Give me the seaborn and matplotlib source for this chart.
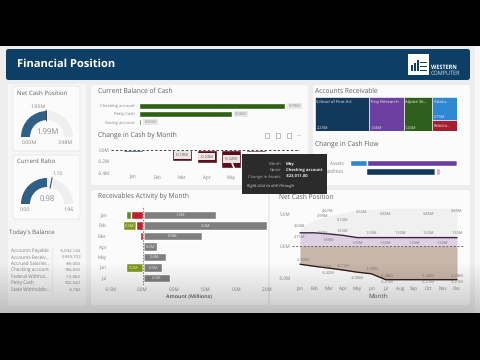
import numpy as np
import pandas as pd
import matplotlib
matplotlib.use('Agg')
import matplotlib.pyplot as plt
from matplotlib.patches import Rectangle, FancyBboxPatch, Wedge
import seaborn as sns

# current balance of cash
balance_names = ['Checking account', 'Petty Cash', 'Saving account']
balance_vals = [0.79, 0.50, 0.01]
balance_lbls = ['0.79M', '0.50M', '0.01M']

# change in cash by month
cash_months = ['Jan', 'Feb', 'Mar', 'Apr', 'May', 'Jun', 'Jul']
cash_vals = [-0.03, -0.02, -0.19, -0.23, -0.32, -0.03, 0.0]
cash_lbls = ['', '', '-0.19M', '-0.23M', '-0.32M', '', '']

# receivables activity
rec_months = ['Jan', 'Feb', 'Mar', 'Apr', 'May', 'Jun', 'Jul']
rec_current = [1.18, 2.0, 0.95, 0.24, 0.37, 0.32, 0.44]
rec_late = [-0.18, -0.10, -0.04, 0, 0, 0, 0]
rec_older = [-0.08, 0, -0.02, 0, 0, 0, 0]
rec_olive = [0, -0.22, 0, 0, 0, -0.26, 0]
rec_lbls = ['1.2M', '2.0M', '0.9M', '0.2M', '0.4M', '0.3M', '0.4M']

# net cash position
net_months = ['Jan', 'Feb', 'Mar', 'Apr', 'May', 'Jun', 'Jul', 'Aug', 'Sep', 'Oct', 'Nov', 'Dec']
net_top = [2.71, 3.99, 4.67, 5.10, 5.52, 5.70, 5.85, 5.85, 5.85, 5.85, 5.85, 5.85]
net_up = [2.04, 2.04, 1.87, 1.65, 1.30, 1.30, 1.30, 1.30, 1.30, 1.30, 1.30, 1.30]
net_low = [-2.82, -3.14, -3.42, -3.71, -4.05, -4.30, -5.21, -5.21, -5.21, -5.21, -5.21, -5.21]

# treemap
tree_names = ['School of Fine Art', 'Troy Research', 'Alpine Sk...', 'Adatu...', 'Relecto...']
tree_vals = [2.25, 1.46, 1.20, 0.70, 0.33]
tree_lbls = ['2.25M', '1.46M', '1.20M', '0.70M', '']
tree_cols = ['#12395c', '#6b3fa0', '#2f5f1c', '#2f86d1', '#a31f2e']

# cash flow (start, segments)
flow_names = ['Assets', 'Liabilities']
flow_start = [0.0, 0.75]
flow_a = [0.8, 3.25]
flow_b = [4.25, 0.05]
flow_c = [0.0, 0.2]

# today's balance
today_names = ['Accounts Payable', 'Accounts Receiv...', 'Accrued Salaries...', 'Checking account',
               'Federal Withhol...', 'Petty Cash', 'State Withholdin...']
today_vals = ['-5,032,144', '5,945,732', '-89,000', '786,092', '-12,682', '502,542', '-6,782']

sns.set_theme(style='white')
plt.rcParams['font.family'] = ['Open Sans', 'DejaVu Sans']
plt.rcParams['text.hinting'] = 'no_hinting'
TXT = '#5f5f5f'
GR = '#808080'

fig = plt.figure(figsize=(4.8, 3.6), dpi=100, facecolor='#ededed')


def add_ax(x0, y0, x1, y1, z=1):
    a = fig.add_axes([x0 / 480, 1 - y1 / 360, (x1 - x0) / 480, (y1 - y0) / 360], zorder=z)
    a.patch.set_alpha(0)
    return a


def clean(a, size=3.3):
    sns.despine(ax=a, left=True, bottom=True)
    a.set_xlabel('')
    a.set_ylabel('')
    a.tick_params(length=0, pad=1, labelsize=size, labelcolor=GR)


bg = add_ax(0, 0, 480, 360, 0)
bg.set_xlim(0, 480)
bg.set_ylim(360, 0)
bg.axis('off')


def card(x0, y0, x1, y1, edge='none', r=2.5):
    bg.add_patch(FancyBboxPatch((x0 + r, y0 + r), x1 - x0 - 2 * r, y1 - y0 - 2 * r, boxstyle='round,pad=%f,rounding_size=%f' % (r, r),
                                fc='#fbfbfb', ec=edge, lw=0.5))


bg.add_patch(Rectangle((475, 46), 5, 270, fc='#f7f7f7', ec='none'))
card(6, 49, 470, 80)
bg.patches[-1].set_facecolor('#0d3f66')
bg.add_patch(Rectangle((8, 84), 78, 222, fc='#f6f6f6', ec='none'))
card(13, 86, 80, 151, '#e3e3e3')
card(13, 155, 80, 219, '#e3e3e3')
card(91, 85, 308, 185)
card(91, 190, 268, 305)
card(270, 190, 470, 305)
card(313, 85, 470, 185)

bg.text(17, 64, 'Financial Position', color='white', fontsize=8.0, fontweight='bold', va='center')
bg.add_patch(Rectangle((408, 54), 21, 21, fc='white', ec='none'))
for bx, bh in zip([411, 414, 417], [6, 8, 11]):
    bg.add_patch(Rectangle((bx, 71 - bh), 1.6, bh, fc='#0d3f66', ec='none'))
for by in [62, 66, 70]:
    bg.add_patch(Rectangle((420, by), 7, 1.4, fc='#0d3f66', ec='none'))
bg.text(431, 67.5, 'WESTERN', color='white', fontsize=4.0, fontweight='bold', va='center')
bg.text(431, 73, 'COMPUTER', color='#d5e0e8', fontsize=4.0, va='center')


# gauges
def gauge(title, ty, cy, val, low, high, target, mid, lo_lbl, hi_lbl, tgt_lbl, tgt_xy):
    bg.text(17, ty, title, fontsize=4.4, color=TXT, va='center')
    bg.add_patch(Wedge((47, cy), 26, 180, 360, width=9, fc='#efefef', ec='none'))
    ang = (val - low) / (high - low) * 180
    bg.add_patch(Wedge((47, cy), 26, 180, 180 + ang, width=9, fc='#2f5f85', ec='none'))
    t = np.deg2rad(180 + (target - low) / (high - low) * 180)
    bg.plot([47 + 16 * np.cos(t), 47 + 27 * np.cos(t)], [cy + 16 * np.sin(t), cy + 27 * np.sin(t)], color='#444444', lw=0.7)
    bg.text(47, cy - 5, mid, fontsize=5.6, color='#888888', ha='center', va='center')
    bg.text(29 if cy < 150 else 25, cy + 5.5, lo_lbl, fontsize=3.8, color=GR, ha='center', va='center')
    bg.text(65 if cy < 150 else 69, cy + 5.5, hi_lbl, fontsize=3.8, color=GR, ha='center', va='center')
    bg.text(tgt_xy[0], tgt_xy[1], tgt_lbl, fontsize=3.8, color=GR, ha='center', va='center')


gauge('Net Cash Position', 93, 137, 1.99, 0, 3.98, 1.95, '1.99M', '0.00M', '3.98M', '1.95M', (38, 107))
gauge('Current Ratio', 161, 204, 0.98, 0, 1.96, 1.10, '0.98', '0.00', '1.96', '1.10', (58, 174))

# today's balance
bg.text(9, 233, "Today's Balance", fontsize=4.4, color=TXT, va='center')
bg.plot([52, 52], [248, 293], color='#dddddd', lw=0.4)
for yy, nm, vv in zip([251, 257.3, 264, 270.3, 277, 283.7, 290], today_names, today_vals):
    bg.text(11, yy, nm, fontsize=3.3, color=GR, va='center')
    bg.text(81, yy, vv, fontsize=3.2, color=GR, va='center', ha='right')

# titles
for tx, ty, tt in [(98, 91, 'Current Balance of Cash'), (98, 135.5, 'Change in Cash by Month'),
                   (98, 197, 'Receivables Activity by Month'), (279, 197.5, 'Net Cash Position'),
                   (315, 91, 'Accounts Receivable'), (315, 144.5, 'Change in Cash Flow')]:
    bg.text(tx, ty, tt, fontsize=4.8, color=TXT, va='center')

# current balance
ax = add_ax(139, 101, 300, 127)
df = pd.DataFrame({'name': balance_names, 'val': balance_vals})
sns.barplot(data=df, y='name', x='val', color='#2b6213', width=0.75, ax=ax, orient='y', saturation=1)
ax.set_xlim(0, 161 / 185)
ax.set_ylim(2.62, -0.62)
clean(ax, 3.1)
ax.set_xticks([])
ax.tick_params(axis='y', pad=3)
for i, (v, l) in enumerate(zip(balance_vals, balance_lbls)):
    ax.text(v + 0.02, i, l, fontsize=3.0, color=GR, va='center',
            bbox=dict(fc='#e8e8e8', ec='none', pad=1.0))

# change in cash
ax = add_ax(111, 146, 300, 174)
df = pd.DataFrame({'month': cash_months, 'val': cash_vals})
pal = ['#1c3157', '#444a55', '#5a0f1e', '#5a0f1e', '#5a0f1e', '#5a0f1e', '#5a0f1e']
sns.barplot(data=df, x='month', y='val', hue='month', palette=pal, legend=False, width=0.82, ax=ax, saturation=1)
ax.set_xlim((111 - 133) / 24.6, (300 - 133) / 24.6)
ax.set_ylim(-0.2 * (174 - 150) / 11.3, 0.2 * 4 / 11.3)
clean(ax)
ax.axhline(0, color='#444444', lw=0.7, ls=(0, (2.5, 2)))
ax.set_yticks([0, -0.2, -0.4], ['0.0M', '-0.2M', '-0.4M'])
# Jun and Jul labels sit behind the tooltip in the reference
ax.set_xticks(range(5), cash_months[:5])
for i, (v, l) in enumerate(zip(cash_vals, cash_lbls)):
    if l:
        ax.text(i, v / 2, l, fontsize=2.9, color='#555555', ha='center', va='center',
                bbox=dict(fc='#ece3e3', ec='none', pad=1.4))
ax.tick_params(axis='x', pad=0.5)

# icons
for ix in [267, 278, 289]:
    bg.add_patch(Rectangle((ix - 2, 133), 4, 4.5, fc='none', ec='#aaaaaa', lw=0.5))
bg.text(299, 134.5, '...', fontsize=5, color='#888888', ha='center', va='center')

# receivables
ax = add_ax(108, 206, 275, 285)
df = pd.DataFrame({'month': rec_months, 'cur': rec_current, 'late': rec_late, 'older': rec_older, 'olive': rec_olive})
df['neg1'] = df['late'] + df['older']
df['neg2'] = df['neg1'] + df['olive']
sns.barplot(data=df, y='month', x='cur', color='#7f7f7f', width=0.78, ax=ax, orient='y', saturation=1)
sns.barplot(data=df, y='month', x='neg2', color='#7f9a1a', width=0.78, ax=ax, orient='y', saturation=1)
sns.barplot(data=df, y='month', x='neg1', color='#5f8a2a', width=0.78, ax=ax, orient='y', saturation=1)
sns.barplot(data=df, y='month', x='late', color='#c01f30', width=0.78, ax=ax, orient='y', saturation=1)
ax.set_xlim((108 - 142.5) / 62.4, (275 - 142.5) / 62.4)
ax.set_ylim((285 - 215) / 10.5, (206 - 215) / 10.5)
clean(ax)
ax.axvline(0, color='#777777', lw=0.6, ls=(0, (2, 1.5)))
ax.set_xticks([-0.5, 0, 0.5, 1, 1.5, 2], ['-0.5M', '0.0M', '0.5M', '1.0M', '1.5M', '2.0M'])
ax.tick_params(axis='x', pad=1.5)
ax.tick_params(axis='y', pad=1)
for i, l in enumerate(rec_lbls):
    ax.text(rec_current[i] / 2 + 0.01, i, l, fontsize=3.0, color='#eeeeee', ha='center', va='center')
ax.text(-0.2, 1, '0.2M', fontsize=3.0, color='#eeeeee', ha='center', va='center')
ax.text(-0.15, 5, '0.3M', fontsize=3.0, color='#eeeeee', ha='center', va='center')
bg.text(189, 297, 'Amount (Millions)', fontsize=3.9, color='#555555', ha='center', va='center', fontweight='semibold')

# net cash position
ax = add_ax(292, 205, 465, 284)
x = np.arange(12)
ax.fill_between(x, net_up, net_top, color='#f0f0f0', lw=0)
ax.fill_between(x, 0, net_up, color='#dcd0e2', lw=0)
ax.fill_between(x, net_low, 0, color='#c9b6aa', lw=0)
sns.lineplot(x=x, y=net_up, color='#3d2145', lw=1.0, ax=ax)
sns.lineplot(x=x, y=net_low, color='#33201c', lw=1.0, ax=ax)
ax.axhline(0, color='#555555', lw=0.6, ls=(0, (2.5, 2)))
ax.set_xlim((292 - 300) / 14.27, (465 - 300) / 14.27)
ax.set_ylim((246 - 284) / 6.46, (246 - 205) / 6.46)
clean(ax)
ax.set_xticks(x, net_months)
ax.set_yticks([5, 0, -5], ['5.0M', '0.0M', '-5.0M'])
ax.tick_params(axis='x', pad=1.5)
ax.tick_params(axis='y', pad=1)
bg.text(378, 296.7, 'Month', fontsize=4.6, color='#555555', ha='center', va='center')
# labels around the lines, (month position, value position)
pts = [(0, 3.05, '2.04M'), (0, 1.45, '2.71M'), (1.6, 4.6, '3.99M'), (1.95, 5.45, '4.67M'), (3.0, 4.1, '5.10M'),
       (4.3, 5.35, '5.52M'), (6.0, 5.0, '5.85M'), (9.0, 5.0, '5.85M'), (11, 5.5, '5.85M'),
       (1.6, 2.0, '1.87M'), (2.0, 1.0, '1.89M'), (3.0, 2.35, '1.65M'),
       (5, 2.0, '1.30M'), (7, 2.0, '1.30M'), (9, 2.0, '1.30M'), (11, 2.0, '1.30M'),
       (4, 0.55, '1.30M'), (6, 0.55, '1.30M'), (8, 0.55, '1.30M'), (10, 0.55, '1.30M'),
       (0.2, -2.2, '-2.82M'), (1.8, -3.2, '-3.14M'), (2.0, -4.2, '-3.42M'), (3.0, -3.1, '-3.71M'),
       (4.0, -4.9, '-4.05M'), (5.05, -3.6, '-4.30M'), (6.1, -4.6, '-5.28M'), (6.1, -5.5, '-5.21M'),
       (9, -4.6, '-5.28M'), (9, -5.5, '-5.21M'), (11, -4.6, '-5.28M'), (11, -5.5, '-5.21M')]
for px, py, s in pts:
    ax.text(px, py, s, fontsize=2.9, color='#777777', ha='center', va='center')

# treemap
ax = add_ax(315, 97, 457, 131)
tot = sum(tree_vals)
ax.set_xlim(0, tot)
ax.set_ylim(1, 0)
ax.axis('off')
left = 0
for i in range(3):
    ax.add_patch(Rectangle((left, 0), tree_vals[i], 1, fc=tree_cols[i], ec='#f2f2f2', lw=0.5))
    ax.text(left + 0.06, 0.14, tree_names[i], fontsize=3.2, color='#f2f2f2', va='center')
    ax.text(left + 0.06, 0.9, tree_lbls[i], fontsize=2.9, color='#e8e8e8', va='center')
    left += tree_vals[i]
right = tree_vals[3] + tree_vals[4]
h = tree_vals[3] / right
ax.add_patch(Rectangle((left, 0), right, h, fc=tree_cols[3], ec='#f2f2f2', lw=0.5))
ax.add_patch(Rectangle((left, h), right, 1 - h, fc=tree_cols[4], ec='#f2f2f2', lw=0.5))
ax.text(left + 0.06, 0.14, tree_names[3], fontsize=3.2, color='#f2f2f2', va='center')
ax.text(left + 0.06, 0.58, tree_lbls[3], fontsize=2.9, color='#e8e8e8', va='center')
ax.text(left + 0.06, 0.84, tree_names[4], fontsize=3.0, color='#f2f2f2', va='center')

# cash flow
ax = add_ax(350, 158, 465, 176)
ax.barh(flow_names, flow_a, left=flow_start, color=['#2f86d1', '#12395c'], height=0.78)
start2 = np.array(flow_start) + np.array(flow_a)
ax.barh(flow_names, flow_b, left=start2, color=['#6b3fa0', '#2f5f1c'], height=0.78)
ax.barh(flow_names, flow_c, left=start2 + np.array(flow_b), color=['#6b3fa0', '#dfa0e0'], height=0.78)
ax.set_xlim(0, 115 / 21.15)
ax.set_ylim(1.55, -0.6)
clean(ax)
ax.set_xticks([])
ax.tick_params(axis='y', pad=4.5)

# tooltip and fade go on top
top = add_ax(0, 0, 480, 360, 5)
top.set_xlim(0, 480)
top.set_ylim(360, 0)
top.axis('off')
top.add_patch(Rectangle((242, 154), 85, 40, fc='#2b2b2b', ec='none'))
for yy, k, v in [(163.5, 'Month', 'May'), (170, 'Name', 'Checking account'), (176.5, 'Change in Assets', '-323,011.00')]:
    top.text(281, yy, k, fontsize=3.0, color='#b5b5b5', ha='right', va='center')
    top.text(286, yy, v, fontsize=3.0, color='#f2f2f2', fontweight='bold', va='center')
top.text(247, 186, 'Right click to drill through', fontsize=3.0, color='#dddddd', style='italic', va='center')
# cursor
top.plot([232, 234.5], [163, 169], color='white', lw=1.2)

# video fade towards the bottom
grad = np.zeros((60, 2, 4))
grad[:, :, 3] = np.linspace(0, 0.2, 60)[:, None]
top.imshow(grad, extent=(0, 480, 313, 262), aspect='auto', zorder=8)
top.set_xlim(0, 480)
top.set_ylim(360, 0)
top.add_patch(Rectangle((0, 0), 480, 46, fc='#000000', ec='none', zorder=9))
top.add_patch(Rectangle((0, 313), 480, 47, fc='#000000', ec='none', zorder=9))

fig.savefig('out.png', dpi=100, facecolor=fig.get_facecolor())
